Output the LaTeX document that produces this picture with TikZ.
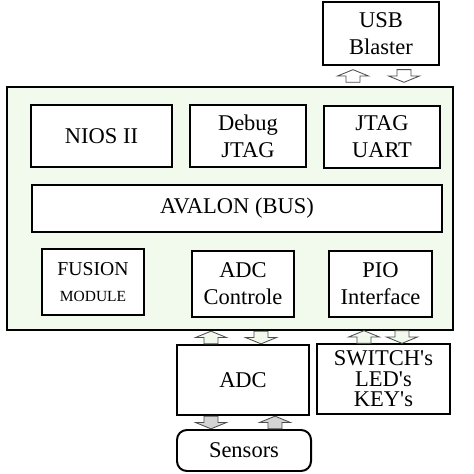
\documentclass[tikz,border=0pt]{standalone}
\usepackage{fontspec}
\setmainfont{Liberation Serif}[Ligatures=TeXOff]
\usetikzlibrary{calc}
\definecolor{fpgagreen}{HTML}{F1FAEC}
\definecolor{arrowgray}{HTML}{D4D4D4}

% block arrow at x=#2, from node anchor #3 to node anchor #4
\newcommand{\blockarrow}[4][white]{%
	\draw[blk, fill=#1] let \p1=(#3), \p2=(#4), \p3=(#2,0),
		\n1={ifthenelse(\y2>\y1,4.5pt,-4.5pt)}, \n2={(\y1+\y2)/2},
		\n3={\n2+\n1}, \n4={\n2-\n1} in
		({\x3-5pt}, \n4) -- ({\x3-5pt}, \n2) -- ({\x3-11pt}, \n2) -- (\x3, \n3)
		-- ({\x3+11pt}, \n2) -- ({\x3+5pt}, \n2) -- ({\x3+5pt}, \n4) -- cycle;}

\begin{document}
\begin{tikzpicture}[x=0.025cm, y=-0.025cm,
	box/.style={draw, line width=1.4pt, fill=white, inner sep=0pt, outer sep=0pt,
		align=center, font=\fontsize{16}{19}\selectfont},
	blk/.style={draw=black!70, line width=0.6pt}]
	\useasboundingbox (0,0) rectangle (474,474);

	\node[box, fill=fpgagreen, minimum width=11.15cm, minimum height=6.075cm] (fpga) at (230,208.5) {};

	\node[box, minimum width=3.525cm, minimum height=1.55cm] (nios) at (101.5,136) {NIOS II};
	\node[box, minimum width=2.9cm, minimum height=1.55cm] (debug) at (248,136) {Debug\\JTAG};
	\node[box, minimum width=2.9cm, minimum height=1.55cm] (uart) at (382,137) {JTAG\\UART};
	\node[box, minimum width=10.25cm, minimum height=1.175cm] (avalon) at (237,208.5) {AVALON (BUS)};
	\node[box, minimum width=2.55cm, minimum height=1.65cm, font=\fontsize{14}{19}\selectfont] (fusion) at (93,282) {FUSION\\{\fontsize{11}{13}\selectfont MODULE}};
	\node[box, minimum width=2.55cm, minimum height=1.65cm] (adcctl) at (243,284) {ADC\\Controle};
	\node[box, minimum width=2.575cm, minimum height=1.65cm] (pio) at (380.5,284) {PIO\\Interface};

	\node[box, minimum width=2.9cm, minimum height=1.575cm] (usb) at (381,33.5) {USB\\Blaster};
	\node[box, minimum width=3.3cm, minimum height=1.75cm] (adc) at (243,380) {ADC};
	\node[box, minimum width=3.325cm, minimum height=1.75cm, font=\fontsize{16}{14.5}\selectfont] (switch) at (383.5,379) {SWITCH's\\LED's\\KEY's};
	\node[box, rounded corners=7pt, minimum width=3.35cm, minimum height=1.025cm] (sensors) at (244,450.5) {Sensors};

	\blockarrow{353}{fpga.north}{usb.south}
	\blockarrow{404}{usb.south}{fpga.north}
	\blockarrow[fpgagreen]{211}{adc.north}{fpga.south}
	\blockarrow[fpgagreen]{261}{fpga.south}{adc.north}
	\blockarrow[fpgagreen]{364}{switch.north}{fpga.south}
	\blockarrow[fpgagreen]{402}{fpga.south}{switch.north}
	\blockarrow[arrowgray]{211}{adc.south}{sensors.north}
	\blockarrow[arrowgray]{275}{sensors.north}{adc.south}
\end{tikzpicture}
\end{document}
